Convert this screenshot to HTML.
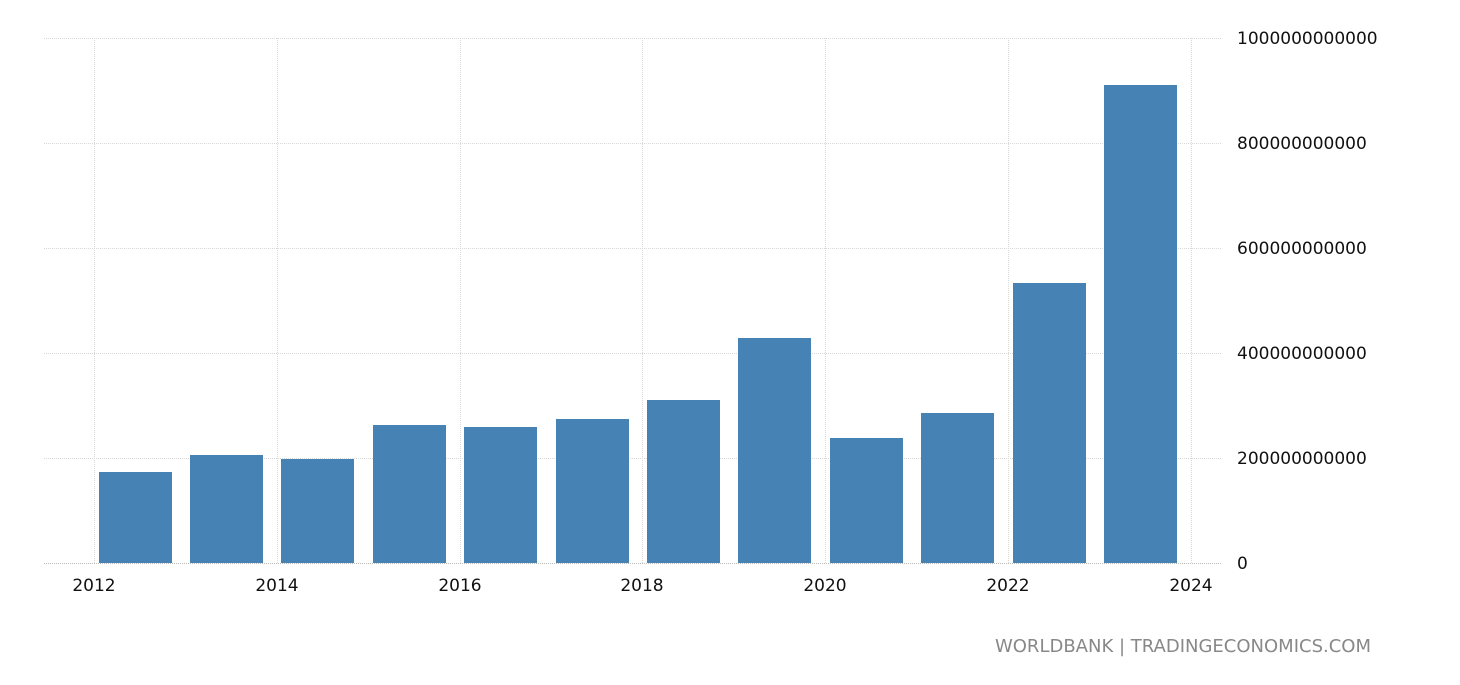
<!DOCTYPE html>
<html><head><meta charset="utf-8"><style>
body{margin:0;background:#fff;}
svg text{font-family:"DejaVu Sans","Liberation Sans",sans-serif;}
</style></head><body>
<svg width="1460" height="680" xmlns="http://www.w3.org/2000/svg">
<g stroke="#d8d8d8" stroke-width="1" stroke-dasharray="1,1">
<line x1="44" x2="1222" y1="38.5" y2="38.5"/>
<line x1="44" x2="1222" y1="143.5" y2="143.5"/>
<line x1="44" x2="1222" y1="248.5" y2="248.5"/>
<line x1="44" x2="1222" y1="353.5" y2="353.5"/>
<line x1="44" x2="1222" y1="458.5" y2="458.5"/>
<line x1="94.5" x2="94.5" y1="38" y2="563"/>
<line x1="277.5" x2="277.5" y1="38" y2="563"/>
<line x1="460.5" x2="460.5" y1="38" y2="563"/>
<line x1="642.5" x2="642.5" y1="38" y2="563"/>
<line x1="825.5" x2="825.5" y1="38" y2="563"/>
<line x1="1008.5" x2="1008.5" y1="38" y2="563"/>
<line x1="1191.5" x2="1191.5" y1="38" y2="563"/>
</g>
<line x1="44" x2="1222" y1="563.5" y2="563.5" stroke="#bbb" stroke-dasharray="1,1"/>
<g fill="#4682b4">
<rect x="99" y="472" width="73" height="91"/>
<rect x="190" y="455" width="73" height="108"/>
<rect x="281" y="459" width="73" height="104"/>
<rect x="373" y="425" width="73" height="138"/>
<rect x="464" y="427" width="73" height="136"/>
<rect x="556" y="419" width="73" height="144"/>
<rect x="647" y="400" width="73" height="163"/>
<rect x="738" y="338" width="73" height="225"/>
<rect x="830" y="438" width="73" height="125"/>
<rect x="921" y="413" width="73" height="150"/>
<rect x="1013" y="283" width="73" height="280"/>
<rect x="1104" y="85" width="73" height="478"/>
</g>
<g font-size="17" fill="#111">
<text x="1237" y="44">1000000000000</text>
<text x="1237" y="149">800000000000</text>
<text x="1237" y="254">600000000000</text>
<text x="1237" y="359">400000000000</text>
<text x="1237" y="464">200000000000</text>
<text x="1237" y="569">0</text>
</g>
<g font-size="17" fill="#111" text-anchor="middle">
<text x="94" y="591">2012</text>
<text x="277" y="591">2014</text>
<text x="460" y="591">2016</text>
<text x="642" y="591">2018</text>
<text x="825" y="591">2020</text>
<text x="1008" y="591">2022</text>
<text x="1191" y="591">2024</text>
</g>
<text x="1371" y="652" font-size="18" fill="#888" text-anchor="end">WORLDBANK | TRADINGECONOMICS.COM</text>
</svg>
</body></html>
